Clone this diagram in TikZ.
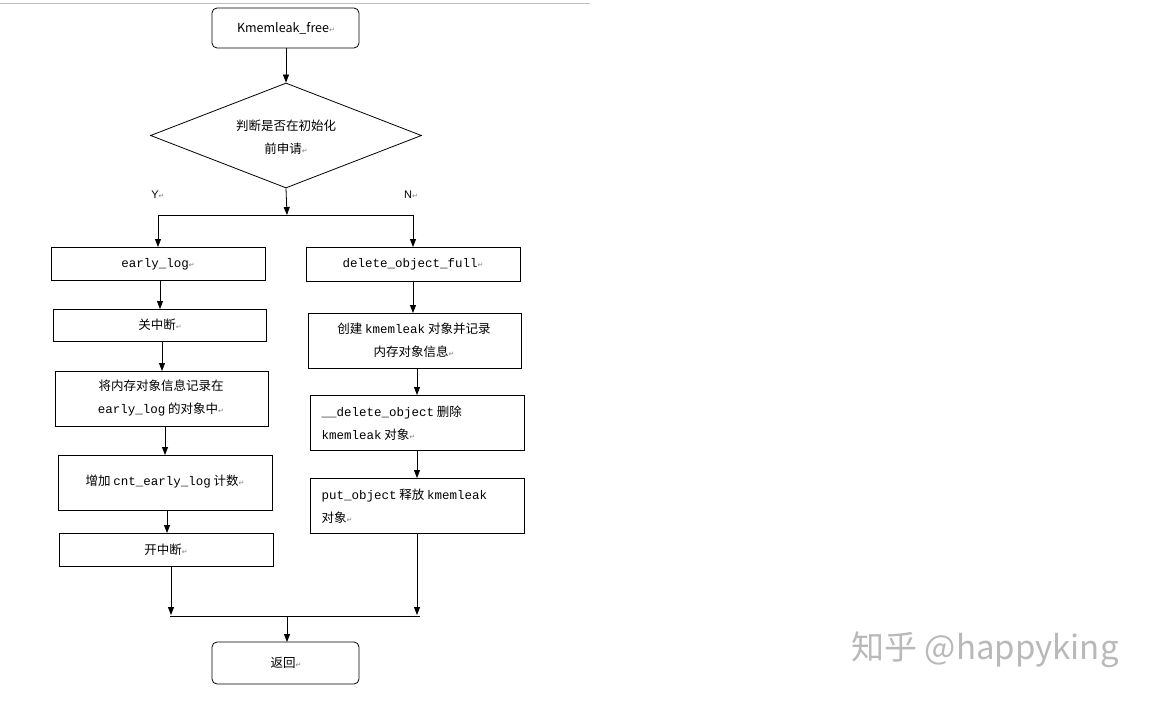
\documentclass[tikz,border=0pt]{standalone}
\usepackage{fontspec}
\setmainfont{Liberation Sans}
\setmonofont{Liberation Mono}
\newfontfamily\cjk{Noto Sans CJK SC}
\newfontfamily\djvfont{DejaVu Sans}
\usetikzlibrary{shapes.geometric,arrows.meta}
\newcommand{\retmark}{{\djvfont\fontsize{7}{7}\selectfont\color{gray}↵}}
\begin{document}
\begin{tikzpicture}[x=1pt,y=-1pt,
  box/.style={draw,thick,inner sep=0pt},
  arr/.style={-{Triangle[length=8pt,width=6pt]},thick},
  ln/.style={thick},
  txt/.style={font=\cjk\fontsize{12.5}{23}\selectfont,align=center}]
\useasboundingbox[fill=white] (0,0) rectangle (1152,701);
\draw[gray!50] (0,3) -- (590,3);
% start
\draw[box,rounded corners=5pt] (212,8) rectangle (359,48);
\node[txt] (s) at (286,28) {Kmemleak\_free\retmark};
\coordinate (st) at (286,48);
\node[draw,thick,diamond,aspect=2.58,minimum width=271pt,minimum height=105pt,inner sep=0pt] (d) at (286,135.5) {};
\node[txt] at (286,137) {判断是否在初始化\\前申请\retmark};
\draw[arr] (st) -- (d.north);
\node[font=\fontsize{11}{11}\selectfont] at (158,195) {Y\retmark};
\node[font=\fontsize{11}{11}\selectfont] at (411,195) {N\retmark};
\coordinate (j1) at (287,215);
\coordinate (jl) at (158,215);
\coordinate (jr) at (413,215);
\draw[arr] (d.south) -- (j1);
\draw[ln] (jl) -- (jr);
% left
\draw[box] (51,247) rectangle (265,280); \node[txt,font=\ttfamily\fontsize{12.5}{23}\selectfont] (l1) at (158,264) {early\_log\retmark};
\draw[box] (53,309) rectangle (266,341); \node[txt] (l2) at (160,325) {关中断\retmark};
\draw[box] (55,371) rectangle (268,426); \node[txt] (l3) at (161,398) {将内存对象信息记录在\\{\ttfamily early\_log} 的对象中\retmark};
\draw[box] (58,455) rectangle (272,510); \node[txt] (l4) at (165,482) {增加 {\ttfamily cnt\_early\_log} 计数\retmark};
\draw[box] (59,533) rectangle (273,566); \node[txt] (l5) at (166,550) {开中断\retmark};
\draw[arr] (jl) -- (158,247);
\draw[arr] (160,280) -- (160,309);
\draw[arr] (162,341) -- (162,371);
\draw[arr] (165,426) -- (165,455);
\draw[arr] (167,510) -- (167,533);
% right
\draw[box] (306,247) rectangle (520,281); \node[txt,font=\ttfamily\fontsize{12.5}{23}\selectfont] (r1) at (413,264) {delete\_object\_full\retmark};
\draw[box] (308,313) rectangle (521,368); \node[txt] (r2) at (414,340) {创建 {\ttfamily kmemleak} 对象并记录\\内存对象信息\retmark};
\draw[box] (310,395) rectangle (524,450); \node[txt,align=left,anchor=west] (r3) at (318,423) {{\ttfamily \_\_delete\_object} 删除\\{\ttfamily kmemleak} 对象\retmark};
\draw[box] (310,478) rectangle (524,533); \node[txt,align=left,anchor=west] (r4) at (318,506) {{\ttfamily put\_object} 释放 {\ttfamily kmemleak}\\对象\retmark};
\draw[arr] (jr) -- (413,247);
\draw[arr] (413,281) -- (413,313);
\draw[arr] (417,368) -- (417,395);
\draw[arr] (417,450) -- (417,478);
% merge
\draw[arr] (171,566) -- (171,615);
\draw[arr] (417,533) -- (417,615);
\draw[ln] (170,616) -- (420,616);
\draw[box,rounded corners=5pt] (212,642) rectangle (359,684);
\node[txt] (e) at (286,663) {返回\retmark};
\draw[arr] (287,616) -- (287,642);
% watermark
\node[font=\cjk\fontsize{33}{33}\selectfont,text=gray!55] at (985,650) {知乎 @happyking};
\end{tikzpicture}
\end{document}
